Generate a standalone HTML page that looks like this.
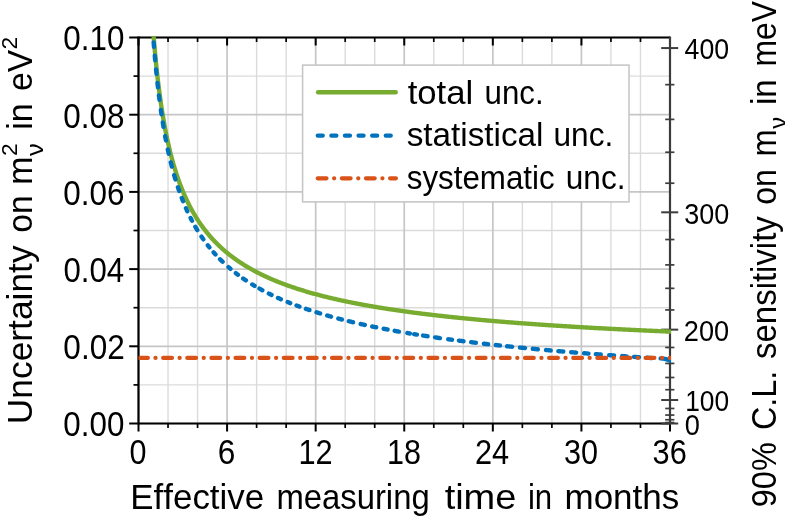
<!DOCTYPE html>
<html><head><meta charset="utf-8"><title>Uncertainty plot</title>
<style>html,body{margin:0;padding:0;background:#fff}svg{display:block}</style></head>
<body>
<svg width="785" height="518" viewBox="0 0 785 518">
<rect width="785" height="518" fill="#fff"/>
<g><line x1="168.03" x2="168.03" y1="37.5" y2="423.5" stroke="#dbdbdb" stroke-width="1.4"/><line x1="197.56" x2="197.56" y1="37.5" y2="423.5" stroke="#dbdbdb" stroke-width="1.4"/><line x1="256.61" x2="256.61" y1="37.5" y2="423.5" stroke="#dbdbdb" stroke-width="1.4"/><line x1="286.14" x2="286.14" y1="37.5" y2="423.5" stroke="#dbdbdb" stroke-width="1.4"/><line x1="345.19" x2="345.19" y1="37.5" y2="423.5" stroke="#dbdbdb" stroke-width="1.4"/><line x1="374.72" x2="374.72" y1="37.5" y2="423.5" stroke="#dbdbdb" stroke-width="1.4"/><line x1="433.78" x2="433.78" y1="37.5" y2="423.5" stroke="#dbdbdb" stroke-width="1.4"/><line x1="463.31" x2="463.31" y1="37.5" y2="423.5" stroke="#dbdbdb" stroke-width="1.4"/><line x1="522.36" x2="522.36" y1="37.5" y2="423.5" stroke="#dbdbdb" stroke-width="1.4"/><line x1="551.89" x2="551.89" y1="37.5" y2="423.5" stroke="#dbdbdb" stroke-width="1.4"/><line x1="610.94" x2="610.94" y1="37.5" y2="423.5" stroke="#dbdbdb" stroke-width="1.4"/><line x1="640.47" x2="640.47" y1="37.5" y2="423.5" stroke="#dbdbdb" stroke-width="1.4"/><line x1="138.5" x2="670.0" y1="384.90" y2="384.90" stroke="#dbdbdb" stroke-width="1.4"/><line x1="138.5" x2="670.0" y1="307.70" y2="307.70" stroke="#dbdbdb" stroke-width="1.4"/><line x1="138.5" x2="670.0" y1="230.50" y2="230.50" stroke="#dbdbdb" stroke-width="1.4"/><line x1="138.5" x2="670.0" y1="153.30" y2="153.30" stroke="#dbdbdb" stroke-width="1.4"/><line x1="138.5" x2="670.0" y1="76.10" y2="76.10" stroke="#dbdbdb" stroke-width="1.4"/><line x1="138.50" x2="138.50" y1="37.5" y2="423.5" stroke="#c6c6c6" stroke-width="1.7"/><line x1="227.08" x2="227.08" y1="37.5" y2="423.5" stroke="#c6c6c6" stroke-width="1.7"/><line x1="315.67" x2="315.67" y1="37.5" y2="423.5" stroke="#c6c6c6" stroke-width="1.7"/><line x1="404.25" x2="404.25" y1="37.5" y2="423.5" stroke="#c6c6c6" stroke-width="1.7"/><line x1="492.83" x2="492.83" y1="37.5" y2="423.5" stroke="#c6c6c6" stroke-width="1.7"/><line x1="581.42" x2="581.42" y1="37.5" y2="423.5" stroke="#c6c6c6" stroke-width="1.7"/><line x1="670.00" x2="670.00" y1="37.5" y2="423.5" stroke="#c6c6c6" stroke-width="1.7"/><line x1="138.5" x2="670.0" y1="423.50" y2="423.50" stroke="#c6c6c6" stroke-width="1.7"/><line x1="138.5" x2="670.0" y1="346.30" y2="346.30" stroke="#c6c6c6" stroke-width="1.7"/><line x1="138.5" x2="670.0" y1="269.10" y2="269.10" stroke="#c6c6c6" stroke-width="1.7"/><line x1="138.5" x2="670.0" y1="191.90" y2="191.90" stroke="#c6c6c6" stroke-width="1.7"/><line x1="138.5" x2="670.0" y1="114.70" y2="114.70" stroke="#c6c6c6" stroke-width="1.7"/><line x1="138.5" x2="670.0" y1="37.50" y2="37.50" stroke="#c6c6c6" stroke-width="1.7"/></g>
<g fill="none"><path d="M138.5,37.5 L670.0,37.5" stroke="#000" stroke-width="2.2"/><path d="M138.5,423.5 L670.0,423.5" stroke="#000" stroke-width="2.2"/><path d="M138.5,36.4 L138.5,424.6" stroke="#000" stroke-width="2.2"/><path d="M138.50,423.5 v8 M138.50,37.5 v8" stroke="#000" stroke-width="2"/><path d="M168.03,423.5 v4.5 M168.03,37.5 v4.5" stroke="#000" stroke-width="1.7"/><path d="M197.56,423.5 v4.5 M197.56,37.5 v4.5" stroke="#000" stroke-width="1.7"/><path d="M227.08,423.5 v8 M227.08,37.5 v8" stroke="#000" stroke-width="2"/><path d="M256.61,423.5 v4.5 M256.61,37.5 v4.5" stroke="#000" stroke-width="1.7"/><path d="M286.14,423.5 v4.5 M286.14,37.5 v4.5" stroke="#000" stroke-width="1.7"/><path d="M315.67,423.5 v8 M315.67,37.5 v8" stroke="#000" stroke-width="2"/><path d="M345.19,423.5 v4.5 M345.19,37.5 v4.5" stroke="#000" stroke-width="1.7"/><path d="M374.72,423.5 v4.5 M374.72,37.5 v4.5" stroke="#000" stroke-width="1.7"/><path d="M404.25,423.5 v8 M404.25,37.5 v8" stroke="#000" stroke-width="2"/><path d="M433.78,423.5 v4.5 M433.78,37.5 v4.5" stroke="#000" stroke-width="1.7"/><path d="M463.31,423.5 v4.5 M463.31,37.5 v4.5" stroke="#000" stroke-width="1.7"/><path d="M492.83,423.5 v8 M492.83,37.5 v8" stroke="#000" stroke-width="2"/><path d="M522.36,423.5 v4.5 M522.36,37.5 v4.5" stroke="#000" stroke-width="1.7"/><path d="M551.89,423.5 v4.5 M551.89,37.5 v4.5" stroke="#000" stroke-width="1.7"/><path d="M581.42,423.5 v8 M581.42,37.5 v8" stroke="#000" stroke-width="2"/><path d="M610.94,423.5 v4.5 M610.94,37.5 v4.5" stroke="#000" stroke-width="1.7"/><path d="M640.47,423.5 v4.5 M640.47,37.5 v4.5" stroke="#000" stroke-width="1.7"/><path d="M670.00,423.5 v8 M670.00,37.5 v8" stroke="#000" stroke-width="2"/><path d="M138.5,423.50 h-9.3" stroke="#000" stroke-width="2"/><path d="M138.5,384.90 h-5" stroke="#000" stroke-width="1.7"/><path d="M138.5,346.30 h-9.3" stroke="#000" stroke-width="2"/><path d="M138.5,307.70 h-5" stroke="#000" stroke-width="1.7"/><path d="M138.5,269.10 h-9.3" stroke="#000" stroke-width="2"/><path d="M138.5,230.50 h-5" stroke="#000" stroke-width="1.7"/><path d="M138.5,191.90 h-9.3" stroke="#000" stroke-width="2"/><path d="M138.5,153.30 h-5" stroke="#000" stroke-width="1.7"/><path d="M138.5,114.70 h-9.3" stroke="#000" stroke-width="2"/><path d="M138.5,76.10 h-5" stroke="#000" stroke-width="1.7"/><path d="M138.5,37.50 h-9.3" stroke="#000" stroke-width="2"/></g>
<g fill="none"><path d="M670.0,36.4 L670.0,424.6" stroke="#3c3c3c" stroke-width="2.2"/><path d="M661.2,423.50 h17" stroke="#3c3c3c" stroke-width="2"/><path d="M665.2,422.56 h9.2" stroke="#3c3c3c" stroke-width="1.7"/><path d="M665.2,419.75 h9.2" stroke="#3c3c3c" stroke-width="1.7"/><path d="M665.2,415.05 h9.2" stroke="#3c3c3c" stroke-width="1.7"/><path d="M665.2,408.48 h9.2" stroke="#3c3c3c" stroke-width="1.7"/><path d="M661.2,400.03 h17" stroke="#3c3c3c" stroke-width="2"/><path d="M665.2,389.71 h9.2" stroke="#3c3c3c" stroke-width="1.7"/><path d="M665.2,377.51 h9.2" stroke="#3c3c3c" stroke-width="1.7"/><path d="M665.2,363.43 h9.2" stroke="#3c3c3c" stroke-width="1.7"/><path d="M665.2,347.47 h9.2" stroke="#3c3c3c" stroke-width="1.7"/><path d="M661.2,329.64 h17" stroke="#3c3c3c" stroke-width="2"/><path d="M665.2,309.93 h9.2" stroke="#3c3c3c" stroke-width="1.7"/><path d="M665.2,288.34 h9.2" stroke="#3c3c3c" stroke-width="1.7"/><path d="M665.2,264.88 h9.2" stroke="#3c3c3c" stroke-width="1.7"/><path d="M665.2,239.53 h9.2" stroke="#3c3c3c" stroke-width="1.7"/><path d="M661.2,212.31 h17" stroke="#3c3c3c" stroke-width="2"/><path d="M665.2,183.22 h9.2" stroke="#3c3c3c" stroke-width="1.7"/><path d="M665.2,152.24 h9.2" stroke="#3c3c3c" stroke-width="1.7"/><path d="M665.2,119.39 h9.2" stroke="#3c3c3c" stroke-width="1.7"/><path d="M665.2,84.66 h9.2" stroke="#3c3c3c" stroke-width="1.7"/><path d="M661.2,48.06 h17" stroke="#3c3c3c" stroke-width="2"/></g>
<clipPath id="c"><rect x="138.5" y="36.3" width="532.5" height="387.2"/></clipPath>
<g clip-path="url(#c)" fill="none">
<path d="M147.36,-79.13 L148.23,-56.45 L149.10,-36.66 L149.98,-19.18 L150.85,-3.60 L151.72,10.39 L152.60,23.06 L153.47,34.59 L154.34,45.14 L155.22,54.85 L156.09,63.82 L156.96,72.13 L157.83,79.88 L158.71,87.10 L159.58,93.87 L160.45,100.23 L161.33,106.21 L162.20,111.85 L163.07,117.19 L163.95,122.25 L164.82,127.04 L165.69,131.60 L166.57,135.95 L167.44,140.09 L168.31,144.04 L169.18,147.83 L170.06,151.45 L170.93,154.92 L171.80,158.25 L172.68,161.45 L173.55,164.53 L174.42,167.49 L175.30,170.34 L176.17,173.09 L177.04,175.75 L177.91,178.31 L178.79,180.79 L179.66,183.19 L180.53,185.51 L181.41,187.76 L182.28,189.94 L183.15,192.05 L184.03,194.10 L184.90,196.09 L185.77,198.02 L186.65,199.90 L187.52,201.73 L188.39,203.51 L189.26,205.24 L190.14,206.92 L191.01,208.56 L191.88,210.16 L192.76,211.72 L193.63,213.24 L194.50,214.73 L195.38,216.18 L196.25,217.59 L197.12,218.97 L197.99,220.32 L198.87,221.65 L199.74,222.94 L200.61,224.20 L201.49,225.43 L202.36,226.64 L203.23,227.83 L204.11,228.99 L204.98,230.12 L205.85,231.23 L206.72,232.32 L207.60,233.39 L208.47,234.44 L209.34,235.47 L210.22,236.47 L211.09,237.46 L211.96,238.43 L212.84,239.39 L213.71,240.32 L214.58,241.24 L215.46,242.14 L216.33,243.03 L217.20,243.90 L218.07,244.75 L218.95,245.60 L219.82,246.42 L220.69,247.24 L221.57,248.04 L222.44,248.82 L223.31,249.60 L224.19,250.36 L225.06,251.11 L225.93,251.84 L226.80,252.57 L227.68,253.29 L228.55,253.99 L229.42,254.68 L230.30,255.37 L231.17,256.04 L232.04,256.70 L232.92,257.35 L233.79,258.00 L234.66,258.63 L235.54,259.26 L236.41,259.87 L237.28,260.48 L238.15,261.08 L239.03,261.67 L239.90,262.26 L240.77,262.83 L241.65,263.40 L242.52,263.96 L243.39,264.51 L244.27,265.06 L245.14,265.59 L246.01,266.13 L246.88,266.65 L247.76,267.17 L248.63,267.68 L249.50,268.18 L250.38,268.68 L251.25,269.18 L252.12,269.66 L253.00,270.14 L253.87,270.62 L254.74,271.09 L255.62,271.55 L256.49,272.01 L257.36,272.46 L258.23,272.91 L259.11,273.35 L259.98,273.79 L260.85,274.22 L261.73,274.65 L262.60,275.07 L263.47,275.49 L264.35,275.90 L265.22,276.31 L266.09,276.71 L266.96,277.11 L267.84,277.51 L268.71,277.90 L269.58,278.29 L270.46,278.67 L271.33,279.05 L272.20,279.42 L273.08,279.79 L273.95,280.16 L274.82,280.52 L275.69,280.88 L276.57,281.24 L277.44,281.59 L278.31,281.94 L279.19,282.28 L280.06,282.63 L280.93,282.96 L281.81,283.30 L282.68,283.63 L283.55,283.96 L284.43,284.29 L285.30,284.61 L286.17,284.93 L287.04,285.24 L287.92,285.56 L288.79,285.87 L289.66,286.17 L290.54,286.48 L291.41,286.78 L292.28,287.08 L293.16,287.38 L294.03,287.67 L294.90,287.96 L295.77,288.25 L296.65,288.54 L297.52,288.82 L298.39,289.10 L299.27,289.38 L300.14,289.65 L301.01,289.93 L301.89,290.20 L302.76,290.47 L303.63,290.73 L304.51,291.00 L305.38,291.26 L306.25,291.52 L307.12,291.78 L308.00,292.03 L308.87,292.28 L309.74,292.54 L310.62,292.78 L311.49,293.03 L312.36,293.28 L313.24,293.52 L314.11,293.76 L314.98,294.00 L315.85,294.24 L316.73,294.47 L317.60,294.70 L318.47,294.94 L319.35,295.17 L320.22,295.39 L321.09,295.62 L321.97,295.84 L322.84,296.07 L323.71,296.29 L324.59,296.51 L325.46,296.72 L326.33,296.94 L327.20,297.15 L328.08,297.37 L328.95,297.58 L329.82,297.79 L330.70,298.00 L331.57,298.20 L332.44,298.41 L333.32,298.61 L334.19,298.81 L335.06,299.01 L335.93,299.21 L336.81,299.41 L337.68,299.60 L338.55,299.80 L339.43,299.99 L340.30,300.18 L341.17,300.38 L342.05,300.56 L342.92,300.75 L343.79,300.94 L344.66,301.12 L345.54,301.31 L346.41,301.49 L347.28,301.67 L348.16,301.85 L349.03,302.03 L349.90,302.21 L350.78,302.39 L351.65,302.56 L352.52,302.74 L353.40,302.91 L354.27,303.08 L355.14,303.25 L356.01,303.42 L356.89,303.59 L357.76,303.76 L358.63,303.92 L359.51,304.09 L360.38,304.25 L361.25,304.41 L362.13,304.58 L363.00,304.74 L363.87,304.90 L364.74,305.06 L365.62,305.21 L366.49,305.37 L367.36,305.53 L368.24,305.68 L369.11,305.84 L369.98,305.99 L370.86,306.14 L371.73,306.29 L372.60,306.44 L373.48,306.59 L374.35,306.74 L375.22,306.89 L376.09,307.03 L376.97,307.18 L377.84,307.32 L378.71,307.47 L379.59,307.61 L380.46,307.75 L381.33,307.89 L382.21,308.03 L383.08,308.17 L383.95,308.31 L384.82,308.45 L385.70,308.59 L386.57,308.72 L387.44,308.86 L388.32,308.99 L389.19,309.13 L390.06,309.26 L390.94,309.39 L391.81,309.53 L392.68,309.66 L393.56,309.79 L394.43,309.92 L395.30,310.05 L396.17,310.17 L397.05,310.30 L397.92,310.43 L398.79,310.55 L399.67,310.68 L400.54,310.80 L401.41,310.93 L402.29,311.05 L403.16,311.17 L404.03,311.29 L404.90,311.41 L405.78,311.53 L406.65,311.65 L407.52,311.77 L408.40,311.89 L409.27,312.01 L410.14,312.13 L411.02,312.24 L411.89,312.36 L412.76,312.47 L413.63,312.59 L414.51,312.70 L415.38,312.82 L416.25,312.93 L417.13,313.04 L418.00,313.15 L418.87,313.26 L419.75,313.38 L420.62,313.49 L421.49,313.59 L422.37,313.70 L423.24,313.81 L424.11,313.92 L424.98,314.03 L425.86,314.13 L426.73,314.24 L427.60,314.34 L428.48,314.45 L429.35,314.55 L430.22,314.66 L431.10,314.76 L431.97,314.86 L432.84,314.97 L433.71,315.07 L434.59,315.17 L435.46,315.27 L436.33,315.37 L437.21,315.47 L438.08,315.57 L438.95,315.67 L439.83,315.77 L440.70,315.87 L441.57,315.96 L442.45,316.06 L443.32,316.16 L444.19,316.25 L445.06,316.35 L445.94,316.44 L446.81,316.54 L447.68,316.63 L448.56,316.73 L449.43,316.82 L450.30,316.91 L451.18,317.00 L452.05,317.10 L452.92,317.19 L453.79,317.28 L454.67,317.37 L455.54,317.46 L456.41,317.55 L457.29,317.64 L458.16,317.73 L459.03,317.82 L459.91,317.91 L460.78,317.99 L461.65,318.08 L462.53,318.17 L463.40,318.25 L464.27,318.34 L465.14,318.43 L466.02,318.51 L466.89,318.60 L467.76,318.68 L468.64,318.77 L469.51,318.85 L470.38,318.93 L471.26,319.02 L472.13,319.10 L473.00,319.18 L473.87,319.26 L474.75,319.35 L475.62,319.43 L476.49,319.51 L477.37,319.59 L478.24,319.67 L479.11,319.75 L479.99,319.83 L480.86,319.91 L481.73,319.99 L482.60,320.07 L483.48,320.14 L484.35,320.22 L485.22,320.30 L486.10,320.38 L486.97,320.45 L487.84,320.53 L488.72,320.61 L489.59,320.68 L490.46,320.76 L491.34,320.83 L492.21,320.91 L493.08,320.98 L493.95,321.06 L494.83,321.13 L495.70,321.20 L496.57,321.28 L497.45,321.35 L498.32,321.42 L499.19,321.50 L500.07,321.57 L500.94,321.64 L501.81,321.71 L502.68,321.78 L503.56,321.85 L504.43,321.93 L505.30,322.00 L506.18,322.07 L507.05,322.14 L507.92,322.21 L508.80,322.27 L509.67,322.34 L510.54,322.41 L511.42,322.48 L512.29,322.55 L513.16,322.62 L514.03,322.68 L514.91,322.75 L515.78,322.82 L516.65,322.89 L517.53,322.95 L518.40,323.02 L519.27,323.09 L520.15,323.15 L521.02,323.22 L521.89,323.28 L522.76,323.35 L523.64,323.41 L524.51,323.48 L525.38,323.54 L526.26,323.60 L527.13,323.67 L528.00,323.73 L528.88,323.80 L529.75,323.86 L530.62,323.92 L531.50,323.98 L532.37,324.05 L533.24,324.11 L534.11,324.17 L534.99,324.23 L535.86,324.29 L536.73,324.35 L537.61,324.42 L538.48,324.48 L539.35,324.54 L540.23,324.60 L541.10,324.66 L541.97,324.72 L542.84,324.78 L543.72,324.84 L544.59,324.90 L545.46,324.95 L546.34,325.01 L547.21,325.07 L548.08,325.13 L548.96,325.19 L549.83,325.25 L550.70,325.30 L551.57,325.36 L552.45,325.42 L553.32,325.48 L554.19,325.53 L555.07,325.59 L555.94,325.64 L556.81,325.70 L557.69,325.76 L558.56,325.81 L559.43,325.87 L560.31,325.92 L561.18,325.98 L562.05,326.03 L562.92,326.09 L563.80,326.14 L564.67,326.20 L565.54,326.25 L566.42,326.31 L567.29,326.36 L568.16,326.41 L569.04,326.47 L569.91,326.52 L570.78,326.57 L571.65,326.63 L572.53,326.68 L573.40,326.73 L574.27,326.78 L575.15,326.84 L576.02,326.89 L576.89,326.94 L577.77,326.99 L578.64,327.04 L579.51,327.09 L580.39,327.15 L581.26,327.20 L582.13,327.25 L583.00,327.30 L583.88,327.35 L584.75,327.40 L585.62,327.45 L586.50,327.50 L587.37,327.55 L588.24,327.60 L589.12,327.65 L589.99,327.70 L590.86,327.75 L591.73,327.79 L592.61,327.84 L593.48,327.89 L594.35,327.94 L595.23,327.99 L596.10,328.04 L596.97,328.09 L597.85,328.13 L598.72,328.18 L599.59,328.23 L600.47,328.28 L601.34,328.32 L602.21,328.37 L603.08,328.42 L603.96,328.46 L604.83,328.51 L605.70,328.56 L606.58,328.60 L607.45,328.65 L608.32,328.69 L609.20,328.74 L610.07,328.79 L610.94,328.83 L611.81,328.88 L612.69,328.92 L613.56,328.97 L614.43,329.01 L615.31,329.06 L616.18,329.10 L617.05,329.15 L617.93,329.19 L618.80,329.23 L619.67,329.28 L620.54,329.32 L621.42,329.37 L622.29,329.41 L623.16,329.45 L624.04,329.50 L624.91,329.54 L625.78,329.58 L626.66,329.63 L627.53,329.67 L628.40,329.71 L629.28,329.75 L630.15,329.80 L631.02,329.84 L631.89,329.88 L632.77,329.92 L633.64,329.97 L634.51,330.01 L635.39,330.05 L636.26,330.09 L637.13,330.13 L638.01,330.17 L638.88,330.21 L639.75,330.26 L640.62,330.30 L641.50,330.34 L642.37,330.38 L643.24,330.42 L644.12,330.46 L644.99,330.50 L645.86,330.54 L646.74,330.58 L647.61,330.62 L648.48,330.66 L649.36,330.70 L650.23,330.74 L651.10,330.78 L651.97,330.82 L652.85,330.86 L653.72,330.90 L654.59,330.93 L655.47,330.97 L656.34,331.01 L657.21,331.05 L658.09,331.09 L658.96,331.13 L659.83,331.17 L660.70,331.20 L661.58,331.24 L662.45,331.28 L663.32,331.32 L664.20,331.36 L665.07,331.39 L665.94,331.43 L666.82,331.47 L667.69,331.51 L668.56,331.54 L669.44,331.58 L670.31,331.62 L671.18,331.65" stroke="#77ac30" stroke-width="4.4" stroke-linecap="butt"/>
<path d="M153.65,42.46 L153.70,43.11 L153.75,43.76 L153.81,44.41 L153.86,45.05 L153.91,45.69 L153.96,46.33 L154.00,46.81 M154.77,55.81 L154.84,56.55 L154.90,57.28 L154.97,58.00 L155.03,58.72 L155.10,59.44 L155.16,60.15 L155.18,60.29 M156.05,69.44 L156.11,70.10 L156.18,70.75 L156.24,71.40 L156.31,72.04 L156.37,72.68 L156.44,73.32 L156.49,73.83 M157.47,82.95 L157.55,83.65 L157.62,84.35 L157.70,85.04 L157.78,85.73 L157.86,86.41 L157.94,87.09 L157.96,87.31 M158.94,95.45 L159.03,96.18 L159.12,96.90 L159.21,97.62 L159.31,98.34 L159.40,99.05 L159.49,99.75 L159.50,99.85 M160.87,109.91 L160.97,110.64 L161.08,111.36 L161.18,112.08 L161.29,112.79 L161.39,113.50 L161.49,114.20 L161.51,114.29 M162.77,122.45 L162.89,123.17 L163.01,123.89 L163.12,124.61 L163.24,125.31 L163.36,126.02 L163.47,126.72 L163.49,126.79 M165.13,136.09 L165.26,136.79 L165.39,137.48 L165.52,138.17 L165.65,138.86 L165.78,139.54 L165.91,140.21 L165.95,140.42 M167.79,149.44 L167.94,150.17 L168.10,150.89 L168.26,151.61 L168.41,152.32 L168.57,153.02 L168.73,153.72 M170.76,162.36 L170.93,163.05 L171.10,163.72 L171.27,164.40 L171.44,165.06 L171.60,165.72 L171.77,166.38 L171.83,166.58 M174.18,175.22 L174.39,175.94 L174.60,176.65 L174.81,177.36 L175.02,178.07 L175.23,178.77 L175.44,179.46 M177.90,187.21 L178.11,187.83 L178.31,188.45 L178.52,189.06 L178.73,189.67 L178.94,190.27 L179.15,190.87 M181.75,197.99 L181.96,198.53 L182.17,199.07 L182.38,199.60 L182.59,200.13 L182.80,200.66 L183.01,201.18 L183.06,201.31 M185.94,208.16 L186.17,208.69 L186.41,209.21 L186.64,209.74 L186.87,210.26 L187.11,210.77 L187.34,211.28 M190.60,218.02 L190.84,218.48 L191.07,218.94 L191.30,219.40 L191.54,219.85 L191.77,220.30 L192.01,220.74 L192.03,220.79 M195.34,226.78 L195.67,227.34 L196.00,227.90 L196.32,228.45 L196.65,229.00 L196.97,229.54 L197.30,230.08 L197.31,230.10 M201.51,236.65 L201.81,237.09 L202.11,237.53 L202.41,237.97 L202.71,238.40 L203.01,238.83 L203.30,239.26 L203.33,239.30 M207.81,245.35 L208.07,245.69 L208.33,246.02 L208.59,246.35 L208.86,246.68 L209.12,247.00 L209.38,247.33 L209.43,247.39 M213.58,252.34 L213.88,252.68 L214.18,253.02 L214.48,253.35 L214.78,253.69 L215.08,254.02 L215.38,254.35 L215.45,254.42 M220.02,259.23 L220.45,259.66 L220.88,260.09 L221.31,260.52 L221.74,260.94 L222.17,261.36 L222.60,261.77 L222.63,261.80 M228.48,267.14 L228.80,267.42 L229.13,267.70 L229.45,267.98 L229.78,268.26 L230.11,268.54 L230.43,268.81 L230.46,268.83 M235.88,273.20 L236.22,273.46 L236.56,273.72 L236.89,273.98 L237.23,274.24 L237.57,274.49 L237.91,274.74 L237.95,274.77 M243.15,278.52 L243.60,278.83 L244.06,279.14 L244.52,279.45 L244.97,279.76 L245.43,280.07 L245.88,280.37 M252.29,284.46 L252.66,284.69 L253.02,284.91 L253.39,285.13 L253.75,285.35 L254.12,285.57 L254.48,285.78 L254.52,285.81 M259.49,288.66 L259.96,288.92 L260.42,289.18 L260.89,289.44 L261.36,289.69 L261.83,289.95 L262.30,290.20 L262.34,290.22 M268.87,293.60 L269.31,293.82 L269.75,294.04 L270.20,294.26 L270.64,294.48 L271.08,294.69 L271.53,294.91 L271.56,294.92 M277.99,297.92 L278.46,298.13 L278.93,298.34 L279.39,298.55 L279.86,298.76 L280.33,298.96 L280.80,299.17 L280.84,299.19 M287.66,302.06 L288.07,302.23 L288.49,302.40 L288.91,302.56 L289.32,302.73 L289.74,302.90 L290.16,303.06 L290.17,303.07 M296.54,305.52 L297.02,305.70 L297.51,305.88 L297.99,306.06 L298.47,306.23 L298.95,306.41 L299.43,306.59 L299.47,306.60 M305.95,308.88 L306.53,309.08 L307.12,309.28 L307.71,309.48 L308.29,309.68 L308.88,309.87 L309.47,310.07 L309.48,310.07 M316.50,312.33 L317.10,312.52 L317.70,312.71 L318.30,312.89 L318.90,313.07 L319.50,313.26 L320.10,313.44 L320.14,313.45 M327.22,315.54 L327.85,315.72 L328.48,315.89 L329.10,316.07 L329.73,316.25 L330.35,316.42 L330.98,316.59 L331.00,316.60 M338.31,318.58 L338.91,318.73 L339.51,318.89 L340.11,319.04 L340.71,319.20 L341.31,319.35 L341.91,319.51 L341.92,319.51 M348.76,321.22 L349.48,321.39 L350.20,321.56 L350.91,321.73 L351.63,321.91 L352.34,322.08 L353.06,322.25 L353.07,322.25 M360.67,324.00 L361.35,324.15 L362.03,324.30 L362.70,324.45 L363.38,324.60 L364.06,324.75 L364.74,324.89 L364.75,324.90 M372.21,326.48 L372.88,326.62 L373.54,326.76 L374.21,326.89 L374.87,327.03 L375.54,327.17 L376.20,327.30 L376.21,327.30 M383.69,328.78 L384.33,328.90 L384.97,329.03 L385.61,329.15 L386.25,329.27 L386.89,329.39 L387.52,329.51 L387.54,329.52 M394.66,330.83 L395.37,330.96 L396.07,331.09 L396.77,331.21 L397.48,331.34 L398.18,331.46 L398.88,331.59 L398.95,331.60 M407.33,333.04 L407.74,333.11 L408.16,333.18 L408.58,333.25 L409.00,333.32 L409.41,333.39 L409.83,333.46 L409.89,333.47 M414.23,334.18 L414.69,334.25 L415.15,334.33 L415.60,334.40 L416.06,334.48 L416.51,334.55 L416.97,334.62 L416.98,334.62 M423.04,335.57 L423.80,335.69 L424.55,335.81 L425.31,335.92 L426.06,336.04 L426.82,336.15 L427.58,336.27 L427.59,336.27 M435.09,337.38 L435.89,337.49 L436.68,337.61 L437.48,337.72 L438.27,337.84 L439.07,337.95 L439.86,338.06 L439.93,338.07 M448.24,339.23 L448.85,339.31 L449.46,339.39 L450.08,339.48 L450.69,339.56 L451.30,339.64 L451.91,339.72 L451.98,339.73 M458.91,340.64 L459.67,340.74 L460.42,340.84 L461.18,340.93 L461.93,341.03 L462.69,341.13 L463.44,341.22 L463.51,341.23 M471.13,342.18 L471.91,342.27 L472.70,342.37 L473.48,342.46 L474.26,342.56 L475.04,342.65 L475.82,342.75 L475.89,342.75 M483.86,343.69 L484.58,343.77 L485.29,343.86 L486.01,343.94 L486.73,344.02 L487.44,344.10 L488.16,344.18 L488.17,344.18 M495.83,345.04 L496.53,345.12 L497.22,345.19 L497.91,345.27 L498.60,345.34 L499.29,345.42 L499.98,345.49 L499.99,345.49 M507.13,346.25 L507.95,346.34 L508.77,346.42 L509.59,346.51 L510.41,346.59 L511.24,346.68 L512.06,346.76 L512.10,346.77 M520.03,347.57 L520.85,347.65 L521.67,347.73 L522.49,347.81 L523.31,347.89 L524.13,347.97 L524.95,348.05 L524.99,348.06 M532.82,348.81 L533.65,348.89 L534.47,348.97 L535.29,349.04 L536.11,349.12 L536.93,349.20 L537.75,349.27 L537.81,349.28 M546.08,350.03 L546.84,350.10 L547.61,350.17 L548.38,350.24 L549.15,350.31 L549.92,350.38 L550.69,350.45 L550.75,350.45 M558.34,351.12 L559.16,351.19 L559.98,351.26 L560.80,351.33 L561.62,351.40 L562.44,351.47 L563.26,351.54 L563.30,351.54 M571.17,352.20 L571.98,352.26 L572.78,352.33 L573.59,352.40 L574.40,352.46 L575.21,352.53 L576.02,352.59 L576.06,352.60 M584.13,353.24 L584.85,353.30 L585.57,353.35 L586.28,353.41 L587.00,353.47 L587.72,353.52 L588.43,353.58 L588.50,353.58 M595.82,354.15 L596.64,354.21 L597.46,354.27 L598.28,354.33 L599.10,354.39 L599.92,354.45 L600.75,354.52 L600.81,354.52 M609.15,355.13 L609.97,355.19 L610.79,355.25 L611.61,355.31 L612.43,355.37 L613.25,355.43 L614.07,355.49 L614.09,355.49 M622.19,356.06 L622.92,356.11 L623.65,356.16 L624.38,356.21 L625.11,356.26 L625.84,356.32 L626.57,356.37 L626.63,356.37 M634.02,356.87 L634.84,356.93 L635.66,356.98 L636.48,357.04 L637.31,357.09 L638.13,357.15 L638.95,357.20 L639.01,357.21 M647.04,357.73 L647.86,357.78 L648.68,357.84 L649.50,357.89 L650.32,357.94 L651.14,357.99 L651.96,358.05 L651.98,358.05 M660.6,358.4 L665,358.9 L671.5,360.8" stroke="#0072bd" stroke-width="4.4" stroke-linecap="round" stroke-linejoin="round"/>
<path d="M139.1,357.88 L671.5,357.88" stroke="#d95319" stroke-width="4.3" stroke-linecap="round" stroke-dasharray="8.7 7.7 0.01 7.71"/>
</g>
<rect x="302.6" y="65.1" width="326.4" height="136.8" fill="#fff" stroke="#c4c4c4" stroke-width="1.5"/>
<path d="M318.1,92.3 H395.7" stroke="#77ac30" stroke-width="4.4" stroke-linecap="round" fill="none"/>
<path d="M317.8,135.6 H393" stroke="#0072bd" stroke-width="4.4" stroke-linecap="round" stroke-dasharray="4.9 8.7" fill="none"/>
<path d="M317.75,178.3 H395.9" stroke="#d95319" stroke-width="4.3" stroke-linecap="round" stroke-dasharray="8.7 7.7 0.01 7.71" fill="none"/>
<g font-family="Liberation Sans, sans-serif" fill="#000" style="font-kerning:none"><text font-size="32.5" transform="translate(407.68,103.50) scale(1.0670,1)">total</text>
<text font-size="32.5" transform="translate(484.57,103.50) scale(0.9618,1)">unc.</text>
<text font-size="32.5" transform="translate(406.67,146.20) scale(1.0240,1)">statistical</text>
<text font-size="32.5" transform="translate(553.55,146.20) scale(0.9725,1)">unc.</text>
<text font-size="32.5" transform="translate(406.73,189.00) scale(0.9635,1)">systematic</text>
<text font-size="32.5" transform="translate(565.75,189.00) scale(0.9725,1)">unc.</text>
<text font-size="34.5" transform="translate(129.61,463.80) scale(0.8853,1)">0</text>
<text font-size="34.5" transform="translate(217.78,463.80) scale(0.9171,1)">6</text>
<text font-size="34.5" transform="translate(298.48,463.80) scale(0.8909,1)">12</text>
<text font-size="34.5" transform="translate(387.07,463.80) scale(0.8847,1)">18</text>
<text font-size="34.5" transform="translate(475.04,463.80) scale(0.8897,1)">24</text>
<text font-size="34.5" transform="translate(564.00,463.80) scale(0.8876,1)">30</text>
<text font-size="34.5" transform="translate(652.58,463.80) scale(0.8918,1)">36</text>
<text font-size="34.5" transform="translate(63.37,436.40) scale(0.9092,1)">0.00</text>
<text font-size="34.5" transform="translate(63.37,359.20) scale(0.9147,1)">0.02</text>
<text font-size="34.5" transform="translate(63.38,282.00) scale(0.9045,1)">0.04</text>
<text font-size="34.5" transform="translate(63.37,204.80) scale(0.9116,1)">0.06</text>
<text font-size="34.5" transform="translate(63.37,127.60) scale(0.9114,1)">0.08</text>
<text font-size="34.5" transform="translate(63.37,50.40) scale(0.9092,1)">0.10</text>
<text font-size="29.5" transform="translate(684.84,434.90) scale(0.9219,1)">0</text>
<text font-size="29.5" transform="translate(685.19,411.43) scale(0.8926,1)">100</text>
<text font-size="29.5" transform="translate(683.83,341.04) scale(0.9209,1)">200</text>
<text font-size="29.5" transform="translate(684.17,223.71) scale(0.9139,1)">300</text>
<text font-size="29.5" transform="translate(684.59,59.46) scale(0.9053,1)">400</text>
<text font-size="35" transform="translate(130.34,509.20) scale(0.9977,1)">Effective</text>
<text font-size="35" transform="translate(276.42,509.20) scale(0.9381,1)">measuring</text>
<text font-size="35" transform="translate(444.63,509.20) scale(1.0853,1)">time</text>
<text font-size="35" transform="translate(527.91,509.20) scale(0.8927,1)">in</text>
<text font-size="35" transform="translate(564.48,509.20) scale(1.0001,1)">months</text>
<text font-size="35" transform="translate(32.40,424.23) rotate(-90) scale(1.0106,1)">Uncertainty</text>
<text font-size="35" transform="translate(32.40,232.71) rotate(-90) scale(0.9606,1)">on</text>
<text font-size="35" transform="translate(32.40,184.65) rotate(-90) scale(0.9664,1)">m</text>
<text font-size="24" transform="translate(42.60,156.00) rotate(-90) scale(1.0644,1)">ν</text>
<text font-size="22.5" transform="translate(17.40,156.05) rotate(-90) scale(1.0146,1)">2</text>
<text font-size="35" transform="translate(32.40,129.87) rotate(-90) scale(0.9679,1)">in</text>
<text font-size="35" transform="translate(32.40,90.93) rotate(-90) scale(0.9619,1)">eV</text>
<text font-size="22.5" transform="translate(17.40,49.45) rotate(-90) scale(1.0146,1)">2</text>
<text font-size="35" transform="translate(775.80,507.22) rotate(-90) scale(0.9276,1)">90%</text>
<text font-size="35" transform="translate(775.80,430.04) rotate(-90) scale(0.9237,1)">C.L.</text>
<text font-size="35" transform="translate(775.80,358.92) rotate(-90) scale(0.9412,1)">sensitivity</text>
<text font-size="35" transform="translate(775.80,204.74) rotate(-90) scale(0.9151,1)">on</text>
<text font-size="35" transform="translate(775.80,156.56) rotate(-90) scale(0.9297,1)">m</text>
<text font-size="24" transform="translate(786.00,128.80) rotate(-90) scale(0.9832,1)">ν</text>
<text font-size="35" transform="translate(775.80,105.01) rotate(-90) scale(0.9458,1)">in</text>
<text font-size="35" transform="translate(775.80,66.62) rotate(-90) scale(0.9110,1)">meV</text></g>
</svg>
</body></html>
